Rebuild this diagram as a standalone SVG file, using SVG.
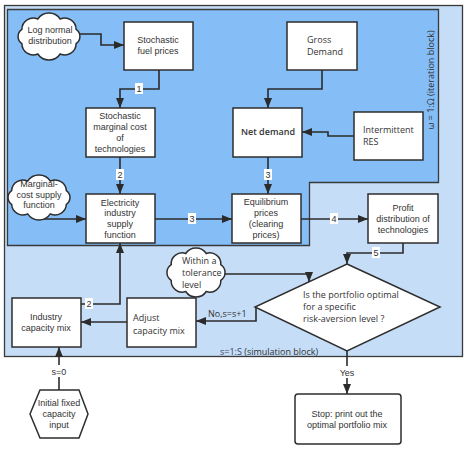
<svg xmlns="http://www.w3.org/2000/svg" width="474" height="454" viewBox="0 0 474 454">
<defs>
<marker id="ah" markerUnits="userSpaceOnUse" markerWidth="10" markerHeight="10" viewBox="0 0 10 10" refX="10" refY="5" orient="auto">
<path d="M0,1 L10,5 L0,9 Z" fill="#2b2b2b"/>
</marker>
<style>
.blk{stroke:#3a3a3a;stroke-width:1.3}
.box{fill:#fff;stroke:#2e2e2e;stroke-width:1.5}
.cl{fill:#fff;stroke:#2e2e2e;stroke-width:1.5}
.t{font-family:"Liberation Sans",Arial,sans-serif;font-size:9px;fill:#333;text-anchor:middle}
.s{font-family:"Open Sans","DejaVu Sans",sans-serif;font-size:9px;fill:#333}
.c{fill:none;stroke:#2b2b2b;stroke-width:1.6}
.a{marker-end:url(#ah)}
.lb{fill:#fff}
</style>
</defs>
<rect width="474" height="454" fill="#fff"/>
<g id="simulation-block">
<rect x="4.5" y="5.5" width="458" height="351" fill="#c5ddf6" class="blk"/>
<text class="s" x="220" y="355" font-size="8.5"><tspan fill="#446">s=1:S</tspan>  (simulation block)</text>
</g>
<g id="iteration-block">
<path d="M7.5,9.5 H438.5 V182.5 H309.5 V245.5 H7.5 Z" fill="#85bdf7" class="blk"/>
<text class="s" transform="translate(434,80) rotate(-90)" text-anchor="middle" font-size="9">ω  =  1:Ω  (iteration block)</text>
</g>
<g id="connectors">
<path class="c a" d="M80,34 H101 V45 H124"/>
<path class="c a" d="M159,70 V89 H120 V108"/>
<path class="c a" d="M322,70 V89 H268 V108"/>
<path class="c a" d="M354,136 H328 V132 H302"/>
<path class="c a" d="M120,157 V194"/>
<path class="c a" d="M268,157 V194"/>
<path class="c a" d="M43,219 H86"/>
<path class="c a" d="M155,219 H232"/>
<path class="c a" d="M301,219 H368"/>
<path class="c a" d="M403,243 V253 H347 V264"/>
<path class="c a" d="M224,274 H309 V282"/>
<path class="c a" d="M256,307 V321 H196"/>
<path class="c a" d="M127,322 H81"/>
<path class="c a" d="M81,304 H120 V243"/>
<path class="c a" d="M59,390 V347"/>
<path class="c a" d="M347,351 V394"/>
<rect class="lb" x="135" y="83" width="8" height="11"/>
<text class="t" x="139" y="92">1</text>
<rect class="lb" x="116" y="169" width="8" height="11"/>
<text class="t" x="120" y="178">2</text>
<rect class="lb" x="264" y="169" width="8" height="11"/>
<text class="t" x="268" y="178">3</text>
<rect class="lb" x="188" y="213" width="8" height="11"/>
<text class="t" x="192" y="222">3</text>
<rect class="lb" x="330" y="213" width="8" height="11"/>
<text class="t" x="334" y="222">4</text>
<rect class="lb" x="372" y="247" width="8" height="11"/>
<text class="t" x="376" y="256">5</text>
<rect class="lb" x="85" y="298" width="8" height="11"/>
<text class="t" x="89" y="307">2</text>
<text class="s" x="208" y="317" font-size="9">No,s=s+1</text>
<rect class="lb" x="48" y="365" width="22" height="12"/>
<text class="t" x="59" y="375">s=0</text>
<rect class="lb" x="336" y="366" width="22" height="12"/>
<text class="t" x="347" y="376">Yes</text>
</g>
<g id="log-normal">
<path class="cl" d="M76.1,43.7 A11.4,11.4 0 0 1 60.2,54 A13.4,13.4 0 0 1 37.8,54 A11.4,11.4 0 0 1 21.9,43.7 A8.7,8.7 0 0 1 21.9,29.3 A11.4,11.4 0 0 1 37.8,19 A13.4,13.4 0 0 1 60.2,19 A11.4,11.4 0 0 1 76.1,29.3 A8.7,8.7 0 0 1 76.1,43.7 Z"/>
<text class="t" x="50" y="33">Log normal</text>
<text class="t" x="50" y="44">distribution</text>
</g>
<g id="fuel-prices">
<rect class="box" x="124" y="22" width="69" height="48"/>
<text class="t" x="158" y="43">Stochastic</text>
<text class="t" x="158" y="54">fuel prices</text>
</g>
<g id="marginal-cost">
<rect class="box" x="86" y="108" width="69" height="49"/>
<text class="t" x="120" y="119">Stochastic</text>
<text class="t" x="120" y="130">marginal cost</text>
<text class="t" x="120" y="141">of</text>
<text class="t" x="120" y="152">technologies</text>
</g>
<g id="gross-demand">
<rect class="box" x="287" y="22" width="70" height="48"/>
<text class="s" x="307" y="43">Gross</text>
<text class="s" x="307" y="55">Demand</text>
</g>
<g id="net-demand">
<rect class="box" x="233" y="108" width="69" height="49"/>
<text class="s" x="268" y="135" text-anchor="middle" font-weight="600">Net demand</text>
</g>
<g id="intermittent-res">
<rect class="box" x="354" y="112" width="69" height="48"/>
<text class="s" x="363" y="133">Intermittent</text>
<text class="s" x="363" y="145">RES</text>
</g>
<g id="marginal-supply">
<path class="cl" d="M66.35,204.3 A11.2,11.2 0 0 1 50.34,213.9 A13.6,13.6 0 0 1 27.66,213.9 A11.2,11.2 0 0 1 11.65,204.3 A8.2,8.2 0 0 1 11.65,190.7 A11.2,11.2 0 0 1 27.66,181.1 A13.6,13.6 0 0 1 50.34,181.1 A11.2,11.2 0 0 1 66.35,190.7 A8.2,8.2 0 0 1 66.35,204.3 Z"/>
<text class="t" x="39" y="187">Marginal-</text>
<text class="t" x="39" y="198">cost supply</text>
<text class="t" x="39" y="208">function</text>
</g>
<g id="electricity-supply">
<rect class="box" x="86" y="194" width="69" height="49"/>
<text class="t" x="120" y="206">Electricity</text>
<text class="t" x="120" y="216">industry</text>
<text class="t" x="120" y="227">supply</text>
<text class="t" x="120" y="238">function</text>
</g>
<g id="equilibrium">
<rect class="box" x="232" y="194" width="69" height="49"/>
<text class="t" x="266" y="205">Equilibrium</text>
<text class="t" x="266" y="216">prices</text>
<text class="t" x="266" y="227">(clearing</text>
<text class="t" x="266" y="238">prices)</text>
</g>
<g id="profit">
<rect class="box" x="368" y="194" width="70" height="49"/>
<text class="t" x="403" y="211">Profit</text>
<text class="t" x="403" y="222">distribution of</text>
<text class="t" x="403" y="233">technologies</text>
</g>
<g id="tolerance">
<path class="cl" d="M220.78,280.37 A11,11 0 0 1 206.27,291.5 A12.3,12.3 0 0 1 185.73,291.5 A11,11 0 0 1 171.22,280.37 A9.4,9.4 0 0 1 171.22,264.63 A11,11 0 0 1 185.73,253.5 A12.3,12.3 0 0 1 206.27,253.5 A11,11 0 0 1 220.78,264.63 A9.4,9.4 0 0 1 220.78,280.37 Z"/>
<text class="s" x="182" y="264">Within a</text>
<text class="s" x="182" y="276">tolerance</text>
<text class="s" x="182" y="288">level</text>
</g>
<g id="decision">
<path class="box" d="M347,264 L440,307 L347,351 L255,307 Z"/>
<text class="s" x="303" y="298">Is the portfolio optimal</text>
<text class="s" x="303" y="310">for a specific</text>
<text class="s" x="303" y="322">risk-aversion level ?</text>
</g>
<g id="industry-mix">
<rect class="box" x="12" y="298" width="69" height="49"/>
<text class="t" x="46" y="320">Industry</text>
<text class="t" x="46" y="331">capacity mix</text>
</g>
<g id="adjust-mix">
<rect class="box" x="127" y="298" width="69" height="49"/>
<text class="s" x="133" y="321">Adjust</text>
<text class="s" x="133" y="334">capacity mix</text>
</g>
<g id="initial-capacity">
<path class="box" d="M30,414 L40,390 L79,390 L88,414 L79,438 L40,438 Z"/>
<text class="t" x="59" y="406">Initial fixed</text>
<text class="t" x="59" y="417">capacity</text>
<text class="t" x="59" y="428">input</text>
</g>
<g id="stop">
<rect class="box" x="295" y="394" width="106" height="50" rx="3"/>
<text class="t" x="347" y="417">Stop: print out the</text>
<text class="t" x="347" y="428">optimal portfolio mix</text>
</g>
</svg>
